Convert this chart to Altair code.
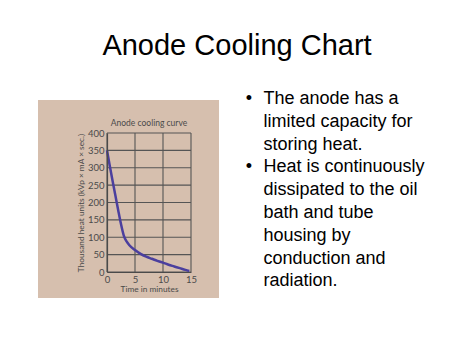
import altair as alt
import pandas as pd

# Data
times = [0, 0.5, 1, 1.5, 2, 2.5, 3, 3.5, 4, 5, 6, 7, 8, 9, 10, 11, 12, 13, 14, 14.7]
heat = [350, 305, 262, 220, 178, 138, 105, 88, 77, 63, 52, 44, 38, 32, 27, 21, 16, 11, 6, 3]

x_ticks = [0, 5, 10, 15]
y_ticks = [0, 50, 100, 150, 200, 250, 300, 350, 400]

slide_title = "Anode Cooling Chart"
chart_title = "Anode cooling curve"
x_title = "Time in minutes"
y_title = "Thousand heat units (kVp × mA × sec.)"
bullet_lines = [
    "The anode has a",
    "limited capacity for",
    "storing heat.",
    "Heat is continuously",
    "dissipated to the oil",
    "bath and tube",
    "housing by",
    "conduction and",
    "radiation.",
]
bullet_starts = [0, 3]

df = pd.DataFrame({"t": times, "h": heat})

PW, PH = 84, 139
PL, PT = 107, 133
W, H = 474, 355
LH = 22.8

beige = "#d6bfae"
ink = "#4a4a4a"
grid_col = "#555555"
chart_font = "Lato"

xs = alt.Scale(domain=[0, 15], nice=False)
ys = alt.Scale(domain=[0, 400], nice=False)

x_axis = alt.Axis(
    values=x_ticks, title=x_title, grid=False, ticks=False,
    labelPadding=2, titlePadding=1, zindex=1,
    labelOverlap=False, labelFlush=False,
)
y_axis = alt.Axis(
    values=y_ticks, title=y_title, grid=False, ticks=False,
    labelPadding=3, titlePadding=1.5, zindex=1,
    labelOverlap=False, labelFlush=False,
)

photo = alt.Chart(pd.DataFrame({"a": [0]})).mark_rect(color=beige).encode(
    x=alt.value(-69), x2=alt.value(112), y=alt.value(-33), y2=alt.value(165)
)

vgrid = alt.Chart(pd.DataFrame({"t": x_ticks})).mark_rule(
    color=grid_col, strokeWidth=1.1
).encode(x=alt.X("t:Q", scale=xs, axis=x_axis))

hgrid = alt.Chart(pd.DataFrame({"h": y_ticks})).mark_rule(
    color=grid_col, strokeWidth=1.1
).encode(y=alt.Y("h:Q", scale=ys, axis=y_axis))

line = alt.Chart(df).mark_line(
    color="#4b3f9e", strokeWidth=2.5, interpolate="monotone"
).encode(
    x=alt.X("t:Q", scale=xs, axis=x_axis),
    y=alt.Y("h:Q", scale=ys, axis=y_axis),
)

ctitle = alt.Chart(pd.DataFrame({"s": [chart_title]})).mark_text(
    font=chart_font, fontSize=8.5, color=ink, align="center", baseline="middle"
).encode(x=alt.value(PW / 2), y=alt.value(-10), text="s:N")

stitle = alt.Chart(pd.DataFrame({"s": [slide_title]})).mark_text(
    font="Liberation Sans", fontSize=29, color="black", align="center",
    baseline="alphabetic"
).encode(x=alt.value(W / 2 - PL), y=alt.value(55 - PT), text="s:N")

body = alt.Chart(pd.DataFrame({"s": ["\n".join(bullet_lines)]})).mark_text(
    font="Liberation Sans", fontSize=18, color="black", align="left",
    baseline="alphabetic", lineBreak="\n", lineHeight=LH
).encode(x=alt.value(263.5 - PL), y=alt.value(104 - PT), text="s:N")

bullet_layers = [
    alt.Chart(pd.DataFrame({"s": ["•"]})).mark_text(
        font="Liberation Sans", fontSize=18, color="black", align="center",
        baseline="alphabetic"
    ).encode(x=alt.value(249 - PL), y=alt.value(104 - PT + i * LH), text="s:N")
    for i in bullet_starts
]

chart = alt.layer(photo, vgrid, hgrid, line, ctitle, stitle, body, *bullet_layers).properties(
    width=PW, height=PH,
    autosize=alt.AutoSizeParams(type="none"),
    padding={"left": PL, "top": PT, "right": W - PL - PW, "bottom": H - PT - PH},
    background="white",
).configure_view(strokeWidth=0).configure_axis(
    domainColor="#4a4a4a", domainWidth=1.2,
    labelFont=chart_font, labelFontSize=9.5, labelColor=ink,
    titleFont=chart_font, titleFontSize=8.3, titleColor=ink, titleFontWeight="normal",
)

chart.save("out.html", embed_options={"renderer": "svg", "actions": False})
